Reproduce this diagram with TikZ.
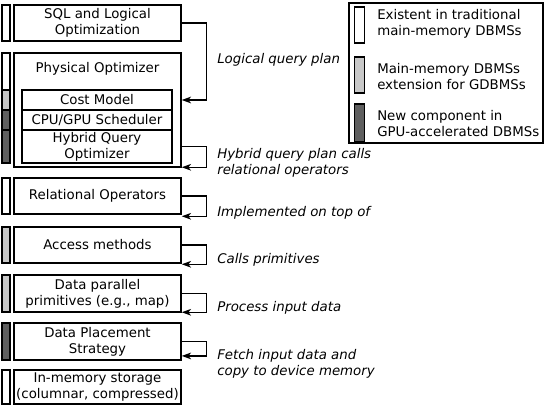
\documentclass[tikz,border=0pt]{standalone}
\usepackage{fontspec}
\setmainfont{DejaVu Sans}
\usepackage{xcolor}
\usepackage{tikz}
\usetikzlibrary{arrows.meta,calc}

\definecolor{lightbar}{RGB}{200,200,200}
\definecolor{darkbar}{RGB}{95,95,95}

\tikzset{
  box/.style={draw, line width=1.1pt, inner sep=0pt, align=center, minimum width=125.25pt, minimum height=27pt},
  row/.style={draw, line width=1.1pt, inner sep=0pt, align=center, minimum width=112.5pt},
  bar/.style={draw, line width=1.1pt, inner sep=0pt, minimum width=6pt},
  swatch/.style={draw, line width=1.1pt, inner sep=0pt, minimum width=7.5pt, minimum height=27pt},
  flow/.style={line width=1pt, -{Stealth[length=7pt,width=5pt,inset=2pt]}},
  lbl/.style={anchor=west, inner sep=0pt, align=left, font=\itshape},
}

\begin{document}
\begin{tikzpicture}[x=0.75pt,y=0.75pt,yscale=-1,xscale=1]
\useasboundingbox (0,0) rectangle (545,409);

% Layer boxes
\node[box] (sql) at (97.5,23) {SQL and Logical\\Optimization};
\node[box, minimum height=85.5pt] (phys) at (97.5,110) {};
\node[inner sep=0pt] (physlbl) at (97.5,69) {Physical Optimizer};
\node[row, minimum height=15pt] (cost) at (97,100) {Cost Model};
\node[row, minimum height=15pt] (sched) at (97,120) {CPU/GPU Scheduler};
\node[row, minimum height=24.75pt] (hybrid) at (97,146.5) {Hybrid Query\\Optimizer};
\node[box] (relop) at (97.5,196) {Relational Operators};
\node[box] (access) at (97.5,245) {Access methods};
\node[box, minimum height=27.75pt] (prims) at (97.5,293.5) {Data parallel\\primitives (e.g., map)};
\node[box, minimum height=27.75pt] (place) at (97.5,341.5) {Data Placement\\Strategy};
\node[box, minimum height=25.5pt] (store) at (97.5,387) {In-memory storage\\(columnar, compressed)};

% Side bars
\node[bar, fill=white, minimum height=27pt] (sqlbar) at (6,23) {};
\node[bar, fill=white, minimum height=27.75pt] (physbar) at (6,71.5) {};
\node[bar, fill=lightbar, minimum height=15pt] (costbar) at (6,100) {};
\node[bar, fill=darkbar, minimum height=15pt] (schedbar) at (6,120) {};
\node[bar, fill=darkbar, minimum height=24.75pt] (hybridbar) at (6,146.5) {};
\node[bar, fill=white, minimum height=27pt] (relopbar) at (6,196) {};
\node[bar, fill=lightbar, minimum height=27pt] (accessbar) at (6,245) {};
\node[bar, fill=lightbar, minimum height=27.75pt] (primsbar) at (6,293.5) {};
\node[bar, fill=darkbar, minimum height=27.75pt] (placebar) at (6,341.5) {};
\node[bar, fill=white, minimum height=25.5pt] (storebar) at (6,387) {};

% Calls between layers
\draw[flow] (sql.east) -- ++(25,0) |- (cost -| phys.east);
\draw[flow] (hybrid -| phys.east) -- ++(25,0) |- ([yshift=-7.5pt]relop.north east);
\draw[flow] (relop.east) -- ++(25,0) |- ([yshift=-7.5pt]access.north east);
\draw[flow] (access.east) -- ++(25,0) |- ([yshift=-7.5pt]prims.north east);
\draw[flow] (prims.east) -- ++(25,0) |- ([yshift=-7.5pt]place.north east);
\draw[flow] (place.east) -- ++(25,0) |- ([yshift=-10pt]store.north east);

% Call labels
\node[lbl] (lplan) at (217,60) {Logical query plan};
\node[lbl] (lhybrid) at (217,163) {Hybrid query plan calls\\relational operators};
\node[lbl] (ltop) at (217,213) {Implemented on top of};
\node[lbl] (lprims) at (217,260) {Calls primitives};
\node[lbl] (lproc) at (217,308) {Process input data};
\node[lbl] (lfetch) at (217,363.5) {Fetch input data and\\copy to device memory};

% Legend
\node[draw, line width=1.1pt, minimum width=145.5pt, minimum height=105pt] (legend) at (446,73) {};
\node[swatch, fill=white] (sw1) at (359.5,25) {};
\node[swatch, fill=lightbar] (sw2) at (359.5,75) {};
\node[swatch, fill=darkbar, minimum height=28.5pt] (sw3) at (359.5,123) {};
\node[lbl, font=\normalfont] (lg1) at (377,24) {Existent in traditional\\main-memory DBMSs};
\node[lbl, font=\normalfont] (lg2) at (377,76.5) {Main-memory DBMSs\\extension for GDBMSs};
\node[lbl, font=\normalfont] (lg3) at (377,123.5) {New component in\\GPU-accelerated DBMSs};

\end{tikzpicture}
\end{document}
